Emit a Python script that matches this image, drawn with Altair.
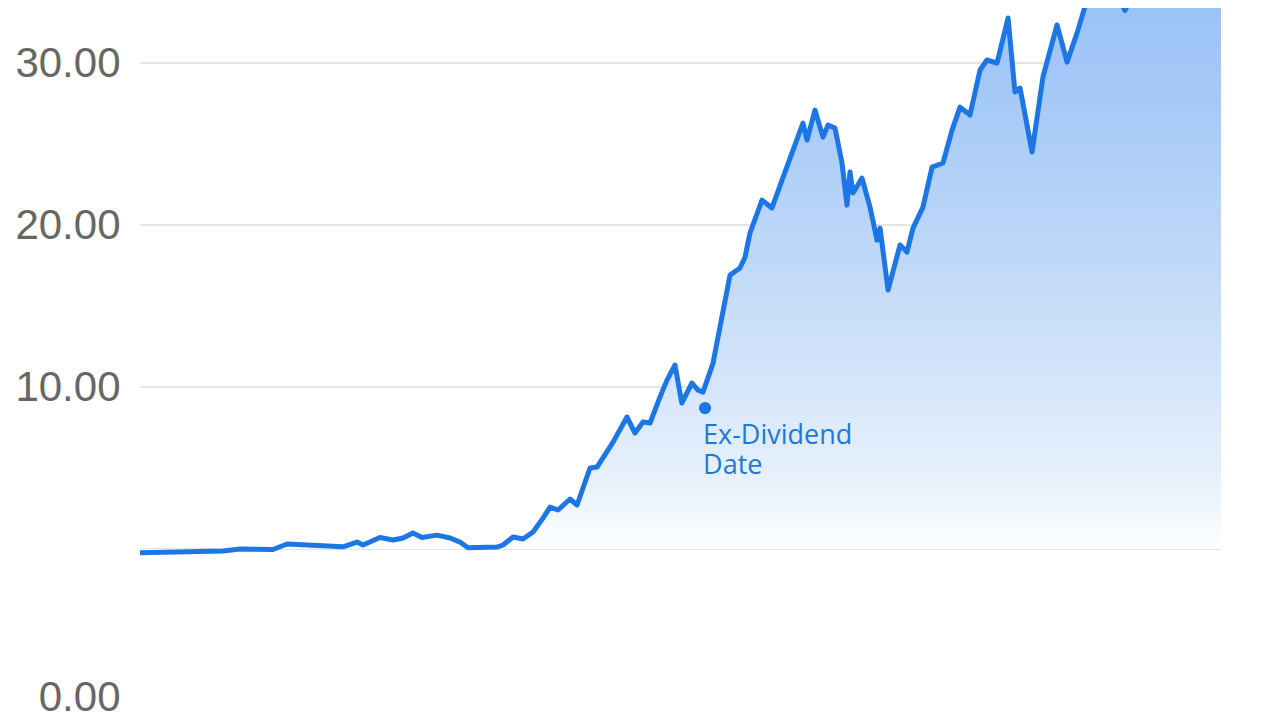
import altair as alt
import pandas as pd

# Position along the period (0 = left edge of chart, 100 = right edge)
t_values = [0, 7.68, 9.25, 12.30, 13.60, 18.78, 20.07, 20.63, 22.20, 23.40, 24.33, 25.25,
            26.09, 27.47, 28.68, 29.60, 30.34, 33.02, 33.58, 34.51, 35.43, 36.36, 37.28,
            37.93, 38.67, 39.78, 40.43, 41.63, 42.28, 43.76, 45.05, 45.79, 46.53, 47.18,
            48.10, 48.75, 49.49, 50.12, 51.06, 51.62, 52.08, 53.01, 54.58, 55.50, 55.97,
            56.43, 57.54, 58.46, 59.39, 60.31, 61.33, 61.70, 62.44, 63.18, 63.64, 64.29,
            64.94, 65.40, 65.68, 65.96, 66.79, 67.53, 68.18, 68.46, 69.20, 70.31, 70.95,
            71.51, 72.43, 73.27, 74.28, 75.12, 75.86, 76.78, 77.71, 78.35, 79.28, 80.30,
            80.94, 81.41, 82.52, 83.53, 84.83, 85.76, 86.68, 87.60, 88.81, 90.19, 91.12,
            91.77, 93.43, 96.21, 100]
price_values = [-0.23, -0.12, 0.00, -0.03, 0.31, 0.14, 0.43, 0.25, 0.71, 0.56, 0.68, 0.99,
                0.71, 0.86, 0.68, 0.43, 0.08, 0.12, 0.25, 0.74, 0.62, 1.05, 1.91,
                2.59, 2.41, 3.09, 2.72, 5.00, 5.06, 6.60, 8.15, 7.16, 7.84, 7.78,
                9.38, 10.43, 11.36, 9.01, 10.25, 9.81, 9.69, 11.48, 16.91, 17.35, 18.02,
                19.51, 21.54, 21.05, 22.78, 24.44, 26.30, 25.25, 27.10, 25.43, 26.17, 25.99,
                23.83, 21.23, 23.27, 21.98, 22.90, 21.11, 19.07, 19.81, 15.99, 18.77, 18.33,
                19.81, 21.11, 23.58, 23.83, 25.86, 27.28, 26.79, 29.57, 30.19, 30.00, 32.78,
                28.21, 28.46, 24.51, 29.14, 32.35, 30.06, 31.85, 33.89, 35.12, 34.51, 33.25,
                34.20, 35.43, 35.74, 36.36]

grid_values = [0, 10, 20, 30]
tick_values = [-9.14, 10, 20, 30]
tick_labels = ["0.00", "10.00", "20.00", "30.00"]

event_t = [52.27]
event_price = [8.7]
event_label = [["Ex-Dividend", "Date"]]

df = pd.DataFrame({"t": t_values, "price": price_values})
grid_df = pd.DataFrame({"g": grid_values})
event_df = pd.DataFrame({"t": event_t, "price": event_price, "label": event_label})

x_scale = alt.Scale(domain=[0, 100], nice=False, zero=False)
y_scale = alt.Scale(domain=[-10.06, 33.4], nice=False, zero=False)

label_expr = "datum.value < 0 ? '0.00' : format(datum.value, '.2f')"

x_enc = alt.X("t:Q", scale=x_scale, axis=None)
y_axis = alt.Axis(values=tick_values, labelExpr=label_expr, domain=False, ticks=False,
                  grid=False, labelPadding=20, labelFontSize=42, labelColor="#666666",
                  labelFont="Liberation Sans", title=None)

grid = alt.Chart(grid_df).mark_rule(color="#e4e4e4", strokeWidth=2).encode(
    y=alt.Y("g:Q", scale=y_scale, axis=y_axis)
)

area = alt.Chart(df).mark_area(
    clip=True,
    color=alt.Gradient(
        gradient="linear",
        stops=[
            alt.GradientStop(color="#98c0f6", offset=0),
            alt.GradientStop(color="#a5c9f7", offset=0.23),
            alt.GradientStop(color="#c6dcf8", offset=0.57),
            alt.GradientStop(color="#e6f0fc", offset=0.87),
            alt.GradientStop(color="#ffffff", offset=1),
        ],
        x1=0, x2=0, y1=0, y2=1,
    ),
).encode(x=x_enc, y=alt.Y("price:Q", scale=y_scale), y2=alt.datum(0))

line = alt.Chart(df).mark_line(clip=True, color="#1c76e6", strokeWidth=5,
                               strokeJoin="round").encode(
    x=x_enc, y=alt.Y("price:Q", scale=y_scale)
)

dot = alt.Chart(event_df).mark_circle(color="#1c76e6", size=150, opacity=1).encode(
    x=x_enc, y=alt.Y("price:Q", scale=y_scale)
)

label = alt.Chart(event_df).mark_text(
    align="left", baseline="top", dx=-2, dy=15, fontSize=27, lineHeight=30,
    font="Open Sans", color="#1e78d8"
).encode(x=x_enc, y=alt.Y("price:Q", scale=y_scale), text="label")

chart = alt.layer(grid, area, line, dot, label).properties(
    width=1081, height=704,
    autosize=alt.AutoSizeParams(type="none"),
    padding={"left": 132, "top": 0, "right": 0, "bottom": 0},
    background="white",
).configure_view(stroke=None)

chart.save("out.html", embed_options={"renderer": "svg", "actions": False})
